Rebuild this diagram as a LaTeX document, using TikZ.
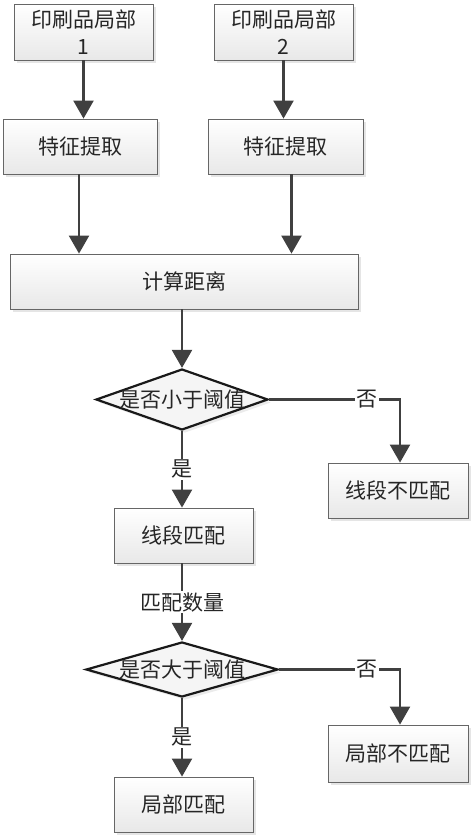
\documentclass[tikz,border=0pt]{standalone}
\usepackage{fontspec}
\newfontfamily\cjk{Noto Sans CJK SC}
\usetikzlibrary{arrows.meta,shapes.geometric,shadows}
\begin{document}
\begin{tikzpicture}[x=1pt, y=1pt,
                font=\cjk\fontsize{21}{27}\selectfont, text=black!85,
                box/.style={draw=gray!80!black, line width=0.8pt, top color=white, bottom color=gray!18,
                    drop shadow={shadow xshift=3pt, shadow yshift=-3pt, fill=gray!40, opacity=0.5},
                    minimum height=55pt, inner sep=0pt, align=center},
                decision/.style={diamond, draw=black!90, line width=2.2pt, fill=gray!8, inner sep=0pt,
                    drop shadow={shadow xshift=3pt, shadow yshift=-3pt, fill=gray!40, opacity=0.4}},
                flow/.style={draw=black!75, line width=2.2pt, -{Triangle[length=18pt,width=20pt]}},
                lbl/.style={fill=white, inner sep=1.5pt}]
                \useasboundingbox (0,0) rectangle (474,-840);

                \node[box, minimum width=139pt, minimum height=56pt] (part1) at (83.5,-32) {印刷品局部\\1};
                \node[box, minimum width=139pt, minimum height=56pt] (part2) at (283.5,-32) {印刷品局部\\2};
                \node[box, minimum width=154pt] (feat1) at (80,-146.5) {特征提取};
                \node[box, minimum width=155pt] (feat2) at (285.5,-146.5) {特征提取};
                \node[box, minimum width=348pt] (dist) at (184,-281.5) {计算距离};

                \node[decision, minimum width=172pt, minimum height=61pt] (less) at (182,-399.5) {};
                \node (lesstext) at (less.center) {是否小于阈值};
                \node[box, minimum width=140pt] (lineno) at (398,-490.5) {线段不匹配};
                \node[box, minimum width=139pt] (lineok) at (183.5,-535.5) {线段匹配};

                \node[decision, minimum width=192pt, minimum height=55pt] (more) at (182,-669.5) {};
                \node (moretext) at (more.center) {是否大于阈值};
                \node[box, minimum width=140pt, minimum height=57pt] (partno) at (398,-753.5) {局部不匹配};
                \node[box, minimum width=139pt] (partok) at (183.5,-804.5) {局部匹配};

                \draw[flow] (part1.south) -- (part1.south |- feat1.north);
                \draw[flow] (part2.south) -- (part2.south |- feat2.north);
                \draw[flow] ([xshift=-1pt]feat1.south) -- ([xshift=-1pt]feat1.south |- dist.north);
                \draw[flow] ([xshift=6pt]feat2.south) -- ([xshift=6pt]feat2.south |- dist.north);
                \draw[flow] (dist.south -| less.north) -- (less.north);

                \draw[flow] (less.east) -| node[lbl, pos=0.375] {否} ([xshift=2pt]lineno.north);
                \draw[flow] (less.south) -- node[lbl, midway] {是} (less.south |- lineok.north);
                \draw[flow] (lineok.south -| more.north) -- node[lbl, midway] {匹配数量} (more.north);

                \draw[flow] (more.east) -| node[lbl, pos=0.365] {否} ([xshift=2pt]partno.north);
                \draw[flow] (more.south) -- node[lbl, midway] {是} (more.south |- partok.north);
\end{tikzpicture}
\end{document}
